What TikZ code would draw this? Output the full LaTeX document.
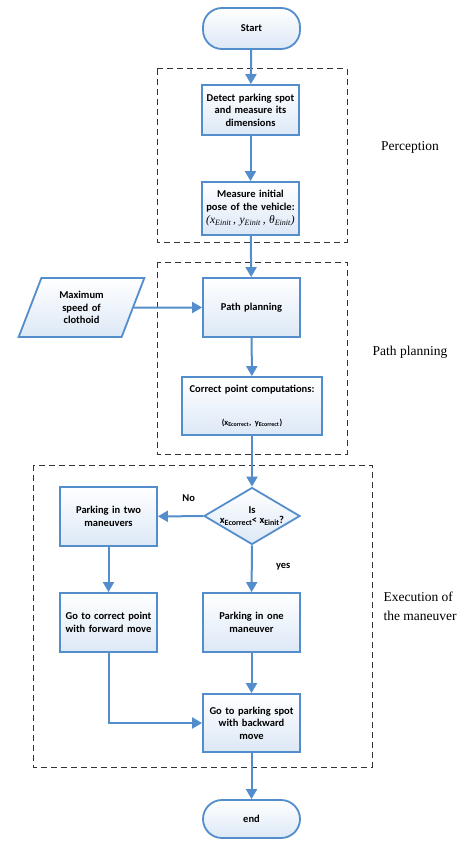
\documentclass[tikz,border=0pt]{standalone}
\usepackage{fontspec}
\setmainfont{Carlito}
\newfontfamily\sidefont{Liberation Serif}
\usetikzlibrary{shapes.geometric,arrows.meta}
\pgfdeclarelayer{background}
\pgfsetlayers{background,main}
\definecolor{flowblue}{RGB}{84,141,203}
\definecolor{boxfill}{RGB}{220,232,246}
\newcommand{\sub}[1]{{\fontsize{8}{8}\selectfont\raisebox{-2pt}{#1}}}
\tikzstyle{proc}=[draw=flowblue, line width=1.8pt, rectangle,
    minimum width=97pt, minimum height=59pt, text width=95pt, inner sep=1pt,
    align=center, font=\fontsize{10.5}{12.5}\selectfont\bfseries,
    top color=white, bottom color=boxfill]
\tikzstyle{term}=[proc, rounded corners=19pt, minimum height=40pt]
\tikzstyle{decide}=[proc, diamond, minimum width=96pt, minimum height=57pt,
    text width=, inner sep=0pt]
\tikzstyle{inbox}=[proc, trapezium, trapezium left angle=63,
    trapezium right angle=117, trapezium stretches=true,
    minimum width=127pt, minimum height=59pt, text width=60pt]
\tikzstyle{flow}=[draw=flowblue, line width=2pt,
    -{Triangle[length=10pt,width=11pt]}]
\tikzstyle{stage}=[draw=black!80, line width=1pt, dash pattern=on 6pt off 4pt]
\tikzstyle{side}=[font=\sidefont\fontsize{13.5}{19}\selectfont, align=left]
\tikzstyle{tag}=[font=\fontsize{10.5}{12}\selectfont\bfseries]

\begin{document}
\begin{tikzpicture}[x=1pt, y=-1pt]
  \useasboundingbox (0,0) rectangle (474,845);
  \node at (251.5,28.5) (start)[term, minimum height=41pt] {Start};
  \node at (250.5,110) (detect)[proc, minimum width=93pt, minimum height=50pt]
      {Detect parking spot\\ and measure its\\ dimensions};
  \node at (250.5,208.5) (pose)[proc, minimum width=93pt, minimum height=53pt]
      {Measure initial\\ pose of the vehicle:\\[1pt]
       {\sidefont\mdseries\itshape\fontsize{11.5}{12}\selectfont
        (x\textsubscript{Einit}\,, y\textsubscript{Einit}\,, θ\textsubscript{Einit})}};
  \node at (81.5,307.5) (speed)[inbox] {Maximum\\ speed of\\ clothoid};
  \node at (251.5,307.5) (plan)[proc] {Path planning};
  \node at (252,406) (corr)[proc, minimum width=140pt, minimum height=58pt, text width=136pt]
      {Correct point computations:\\[21pt]
       {\fontsize{8.5}{9}\selectfont (x\textsubscript{Ecorrect}, y\textsubscript{Ecorrect})}};
  \node at (252,516) (test)[decide]
      {\makebox[0pt]{\begin{tabular}{@{}c@{}}Is\\[-2pt]
       x\sub{Ecorrect}< x\sub{Einit}?\end{tabular}}};
  \node at (108.5,516.5) (two)[proc] {Parking in two\\ maneuvers};
  \node at (108.5,622.5) (fwd)[proc] {Go to correct point\\ with forward move};
  \node at (251.5,622.5) (one)[proc] {Parking in one\\ maneuver};
  \node at (251.5,723) (back)[proc, minimum height=58pt] {Go to parking spot\\ with backward\\ move};
  \node at (251.5,819) (end)[term, minimum height=38pt] {end};

  \draw[flow] (start) -- (detect);
  \draw[flow] (detect) -- (pose);
  \draw[flow] (pose) -- (plan);
  \draw[flow] (speed.east) -- (plan);
  \draw[flow] (plan) -- (corr);
  \draw[flow] (corr) -- (test);
  \draw[flow] (test) -- node[tag, above=10pt, xshift=8pt] {No} (two);
  \draw[flow] (test) -- node[tag, right=20pt, yshift=2pt] {yes} (one);
  \draw[flow] (two) -- (fwd);
  \draw[flow] (fwd) |- (back);
  \draw[flow] (one) -- (back);
  \draw[flow] (back) -- (end);

  % stages
  \begin{pgfonlayer}{background}
    \path (157,69) coordinate (p1) (347,242) coordinate (p2);
    \draw[stage] (p1) rectangle (p2);
    \path (157,262) coordinate (q1) (347,454) coordinate (q2);
    \draw[stage] (q1) rectangle (q2);
    \path (33,465) coordinate (r1) (372,767) coordinate (r2);
    \draw[stage] (r1) rectangle (r2);
  \end{pgfonlayer}
  \node at (410,147) (perc)[side] {Perception};
  \node at (410,352) (pathl)[side] {Path planning};
  \node[anchor=west] at (380,606) (exec)[side] {Execution of\\ the maneuver};
\end{tikzpicture}
\end{document}
